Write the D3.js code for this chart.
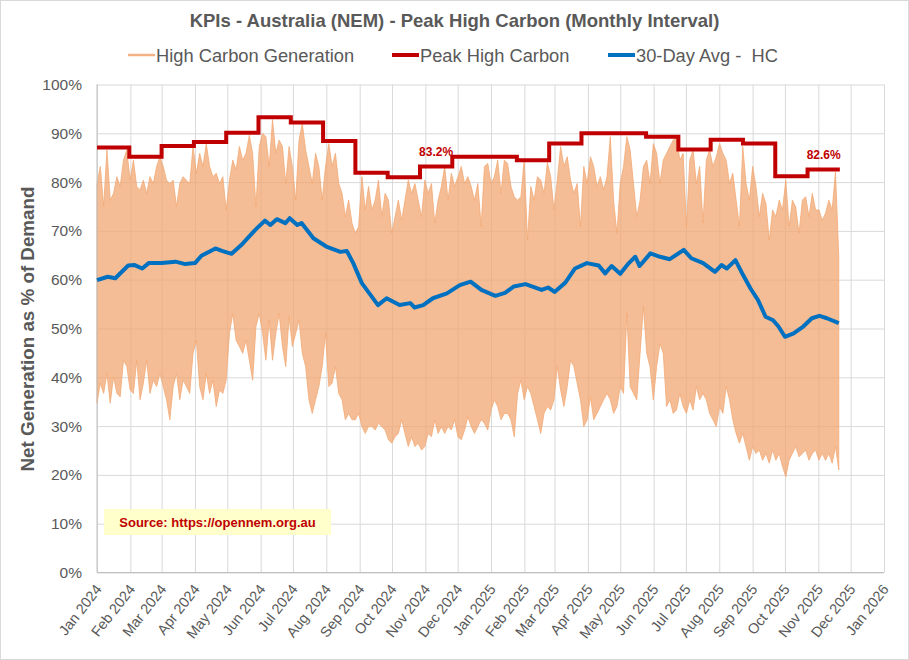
<!doctype html>
<html>
<head>
<meta charset="utf-8">
<style>
    body { margin: 0; background: #fff; }
    text { font-family: "Liberation Sans", Arial, sans-serif; fill: #595959; }
    .grid line { stroke: #d9d9d9; }
    .grid .domain { display: none; }
</style>
<script src="https://cdn.jsdelivr.net/npm/d3@7"></script>
</head>
<body>
<svg width="909" height="660"></svg>
<script>

// axis runs Jan 2024 .. Jan 2026, one tick per month
var axisStart = new Date(2024, 0, 1),
    axisEnd = new Date(2026, 0, 1);
var yTicks = [0, 10, 20, 30, 40, 50, 60, 70, 80, 90, 100];

// peak high carbon share for each 30-day interval starting 1 Jan 2024
var peakVals = [87.1, 85.2, 87.4, 88.2, 90.1, 93.3, 92.2, 88.4, 81.9, 81.0, 83.2, 85.2,
                85.2, 84.5, 87.9, 90.0, 90.0, 89.3, 86.7, 88.7, 87.9, 81.2, 82.6];
var peakLabels = [10, 22];   // intervals that get a value label

// high carbon generation, upper / lower edge of the band,
// readings spaced evenly from 1 Jan 2024 (day 0) to day 689
var lastDay = 689;
var hcHigh = [
    79.7,83.2,75.0,86.6,76.3,77.7,81.1,79.1,84.5,86.6, 80.4,84.5,79.1,78.4,80.4,77.7,81.1,79.7,83.2,85.2,
    83.2,80.4,79.7,80.4,75.0,79.7,81.1,80.4,79.7,87.3, 81.8,85.9,83.2,87.9,83.2,81.1,81.8,79.7,81.1,74.3,
    80.4,84.5,82.5,87.3,84.5,85.9,89.6,85.9,75.0,87.3, 90.0,89.3,83.2,92.8,85.9,88.6,
    87.3,79.7,87.3,83.2,76.3,88.6,92.0,86.6,83.2,79.7, 85.9,83.2,76.3,83.2,87.9,83.2,85.9,79.7,77.7,72.9,
    76.3,71.6,69.5,70.9,81.1,74.3,79.1,74.3,76.3,80.4, 72.9,77.7,76.3,69.5,72.9,76.3,72.2,76.3,80.4,77.7,
    79.7,76.3,72.9,80.4,77.7,79.7,71.6,76.3,79.1,83.2, 76.3,81.8,79.1,81.1,83.2,79.7,
    81.1,79.1,76.3,79.7,70.9,83.2,83.8,79.7,81.1,84.5, 77.7,84.5,83.8,79.1,77.0,76.3,77.0,84.5,68.1,79.1,
    76.3,81.1,80.4,77.7,84.0,81.1,74.3,80.4,87.3,83.2, 85.2,80.4,77.7,79.7,70.9,83.2,79.7,85.2,83.2,79.1,
    81.1,78.4,81.1,89.3,76.3,69.5,79.7,83.2,89.3,86.6, 79.7,72.9,76.3,83.2,84.5,79.7,
    87.9,85.9,79.7,84.5,85.9,87.3,88.6,89.3,84.5,85.9, 70.9,84.5,86.6,79.7,83.2,71.6,84.5,86.6,83.2,85.2,
    87.9,85.9,84.5,79.7,81.8,76.3,70.9,87.3,79.7,76.3, 83.2,79.1,72.9,77.7,75.6,68.1,74.3,72.9,76.3,74.3,
    80.4,70.9,76.3,74.9,69.5,76.3,77.0,72.9,77.7,74.3, 74.3,72.2,73.6,76.3,74.3,82.1,64.7
];
var hcLow = [
    34.7,38.8,36.7,40.8,34.7,40.1,36.7,36.0,43.5,42.2, 37.4,36.7,43.5,35.4,38.8,43.5,36.7,39.4,38.1,40.8,
    38.1,35.4,31.3,38.1,40.8,35.4,39.4,38.1,36.7,44.9, 47.6,38.1,35.4,40.8,36.7,39.4,34.0,37.4,36.7,39.4,
    49.0,53.1,47.6,46.3,44.9,47.6,43.5,39.4,50.4,53.1, 49.0,43.5,51.7,43.5,49.0,53.1,
    46.3,42.2,52.4,46.3,49.0,51.7,44.9,42.2,35.4,32.6, 35.4,38.1,42.2,49.0,38.1,38.8,42.2,36.7,35.4,31.3,
    32.6,31.3,31.3,32.6,29.9,28.5,29.9,29.9,29.2,30.6, 29.9,29.2,27.2,26.5,27.8,28.5,31.3,28.5,25.8,27.8,
    25.8,26.5,25.1,25.8,28.5,27.8,31.3,28.5,29.9,28.5, 29.9,29.2,31.3,27.8,27.2,29.2,
    31.9,29.9,28.5,29.9,31.3,30.6,29.2,33.3,35.4,34.0, 31.3,32.6,32.6,31.3,27.8,36.7,39.4,35.4,38.1,36.7,
    34.0,31.3,28.5,32.6,34.0,33.3,35.4,42.2,37.4,34.0, 38.1,43.5,42.2,38.8,35.4,29.9,31.3,36.0,31.3,32.6,
    34.0,35.4,36.7,35.4,32.6,34.0,38.1,36.7,53.1,38.1, 36.7,35.4,44.9,54.5,44.9,42.2,
    35.4,42.2,46.9,44.9,34.0,35.4,32.6,33.3,36.7,34.0, 32.6,35.4,33.3,38.1,35.4,36.7,35.4,32.6,31.3,29.9,
    34.0,32.6,38.1,35.4,31.3,28.5,26.5,28.5,25.8,23.0, 25.8,24.4,25.1,23.0,24.4,22.4,25.1,23.0,24.4,21.7,
    19.6,23.0,24.4,25.8,23.7,24.4,25.1,23.0,24.4,25.1, 23.0,24.4,23.0,24.4,22.4,25.8,21.0
];

// 30-day average, days since 1 Jan 2024 and value
var avgDays = [0,10,17,29,35,42,48,60,73,82, 91,97,110,116,125,134,147,156,161,167,
               175,179,186,190,201,213,226,232,238,246, 254,261,269,281,291,295,303,312,325,337,
               347,357,370,379,387,398,413,419,425,435, 444,455,466,472,478,486,494,500,504,514,
               523,532,545,552,563,574,580,585,593,600, 607,614,621,628,633,639,647,656,664,671,
               678,689];
var avgVals = [59.9,60.6,60.3,62.9,63.0,62.3,63.4,63.4,63.7,63.2, 63.4,64.9,66.4,65.9,65.3,67.1,70.2,72.1,71.2,72.4,
               71.6,72.6,71.2,71.6,68.5,66.8,65.7,65.9,63.4,59.3, 56.9,54.8,56.2,54.8,55.2,54.3,54.8,56.2,57.2,58.9,
               59.6,57.9,56.7,57.3,58.6,59.1,57.9,58.4,57.5,59.4, 62.3,63.4,62.9,61.3,62.8,61.2,63.4,64.7,62.8,65.4,
               64.7,64.2,66.1,64.4,63.4,61.6,63.0,62.3,64.0,61.0, 58.2,55.8,52.4,51.7,50.4,48.3,49.0,50.4,52.1,52.6,
               52.1,51.1];

var svg = d3.select("svg"),
    plotL = 97, plotR = 884, plotT = 84.5, plotB = 572.5;

function dayToDate(d) {
    return new Date(axisStart.getTime() + d * 864e5);
}

var x = d3.scaleTime().domain([axisStart, axisEnd]).range([plotL, plotR]),
    y = d3.scaleLinear().domain([0, 100]).range([plotB, plotT]);

svg.append("rect")
   .attr("x", 0.5).attr("y", 0.5)
   .attr("width", 908).attr("height", 659)
   .attr("fill", "#fff").attr("stroke", "#d9d9d9");

// grid + tick labels
svg.append("g")
   .attr("class", "grid")
   .attr("transform", "translate(" + plotL + ",0)")
   .call(d3.axisLeft(y).tickValues(yTicks).tickSize(-(plotR - plotL)).tickPadding(15)
           .tickFormat(function(d) { return d + "%"; }))
   .selectAll("text")
   .attr("font-size", "15.5px")
   .attr("font-family", null);

var xg = svg.append("g")
   .attr("class", "grid")
   .attr("transform", "translate(0," + plotB + ")")
   .call(d3.axisBottom(x).ticks(d3.timeMonth.every(1)).tickSize(-(plotB - plotT))
           .tickFormat(d3.timeFormat("%b %Y")));
xg.selectAll("text")
  .attr("font-size", "14.5px")
  .attr("font-family", null)
  .attr("text-anchor", "end")
  .attr("x", 0).attr("y", 0).attr("dy", 0)
  .attr("transform", "translate(5,17) rotate(-52)");

// high carbon band
var band = d3.area()
    .x(function(d, i) { return x(dayToDate(i * lastDay / (hcHigh.length - 1))); })
    .y0(function(d, i) { return y(hcLow[i]); })
    .y1(function(d) { return y(d); });

svg.append("path")
   .datum(hcHigh)
   .attr("d", band)
   .attr("fill", "#f2a772")
   .attr("fill-opacity", 0.75)
   .attr("stroke", "#f2a772")
   .attr("stroke-opacity", 0.75)
   .attr("stroke-width", 1);

// axis lines
svg.append("line").attr("x1", plotL).attr("x2", plotL).attr("y1", plotT).attr("y2", plotB)
   .attr("stroke", "#bfbfbf");
svg.append("line").attr("x1", plotL).attr("x2", plotR).attr("y1", plotB).attr("y2", plotB)
   .attr("stroke", "#bfbfbf");

// peak step line
var peakPts = peakVals.map(function(v, i) { return [i * 30, v]; });
peakPts.push([peakVals.length * 30, peakVals[peakVals.length - 1]]);

svg.append("path")
   .datum(peakPts)
   .attr("d", d3.line()
       .curve(d3.curveStepAfter)
       .x(function(d) { return x(dayToDate(d[0])); })
       .y(function(d) { return y(d[1]); }))
   .attr("fill", "none")
   .attr("stroke", "#c00000")
   .attr("stroke-width", 4);

svg.selectAll(".peak-label")
   .data(peakLabels)
   .enter().append("text")
   .attr("class", "peak-label")
   .attr("x", function(i) { return x(dayToDate(i * 30 + 15)); })
   .attr("y", function(i) { return y(peakVals[i]) - 10.5; })
   .attr("text-anchor", "middle")
   .attr("font-size", "12px")
   .attr("font-weight", "bold")
   .style("fill", "#c00000")
   .text(function(i) { return peakVals[i].toFixed(1) + "%"; });

// 30 day average
svg.append("path")
   .datum(avgDays)
   .attr("d", d3.line()
       .x(function(d) { return x(dayToDate(d)); })
       .y(function(d, i) { return y(avgVals[i]); }))
   .attr("fill", "none")
   .attr("stroke", "#0070c0")
   .attr("stroke-width", 4)
   .attr("stroke-linejoin", "round");

// source box
svg.append("rect")
   .attr("x", 104).attr("y", 509)
   .attr("width", 227).attr("height", 26)
   .attr("fill", "#ffffcc");
svg.append("text")
   .attr("x", 217.5).attr("y", 527)
   .attr("text-anchor", "middle")
   .attr("font-size", "13px")
   .attr("font-weight", "bold")
   .style("fill", "#c00000")
   .text("Source: https://opennem.org.au");

// titles
svg.append("text")
   .attr("x", 454.5).attr("y", 27)
   .attr("text-anchor", "middle")
   .attr("font-size", "18.5px")
   .attr("font-weight", "bold")
   .text("KPIs - Australia (NEM) - Peak High Carbon (Monthly Interval)");

svg.append("text")
   .attr("transform", "translate(34,329) rotate(-90)")
   .attr("text-anchor", "middle")
   .attr("font-size", "18.8px")
   .attr("font-weight", "bold")
   .text("Net Generation as % of Demand");

// legend
var legend = [
    { name: "High Carbon Generation", color: "#f4b183", w: 2.5, x: 128 },
    { name: "Peak High Carbon", color: "#c00000", w: 4, x: 392 },
    { name: "30-Day Avg -  HC", color: "#0070c0", w: 4, x: 608 }
];
var lg = svg.selectAll(".legend")
    .data(legend)
    .enter().append("g")
    .attr("class", "legend")
    .attr("transform", function(d) { return "translate(" + d.x + ",55)"; });
lg.append("line")
  .attr("x1", 0).attr("x2", 27)
  .attr("stroke", function(d) { return d.color; })
  .attr("stroke-width", function(d) { return d.w; });
lg.append("text")
  .attr("x", 28).attr("y", 6.5)
  .attr("font-size", "18.3px")
  .style("white-space", "pre")
  .text(function(d) { return d.name; });

</script>
</body>
</html>
